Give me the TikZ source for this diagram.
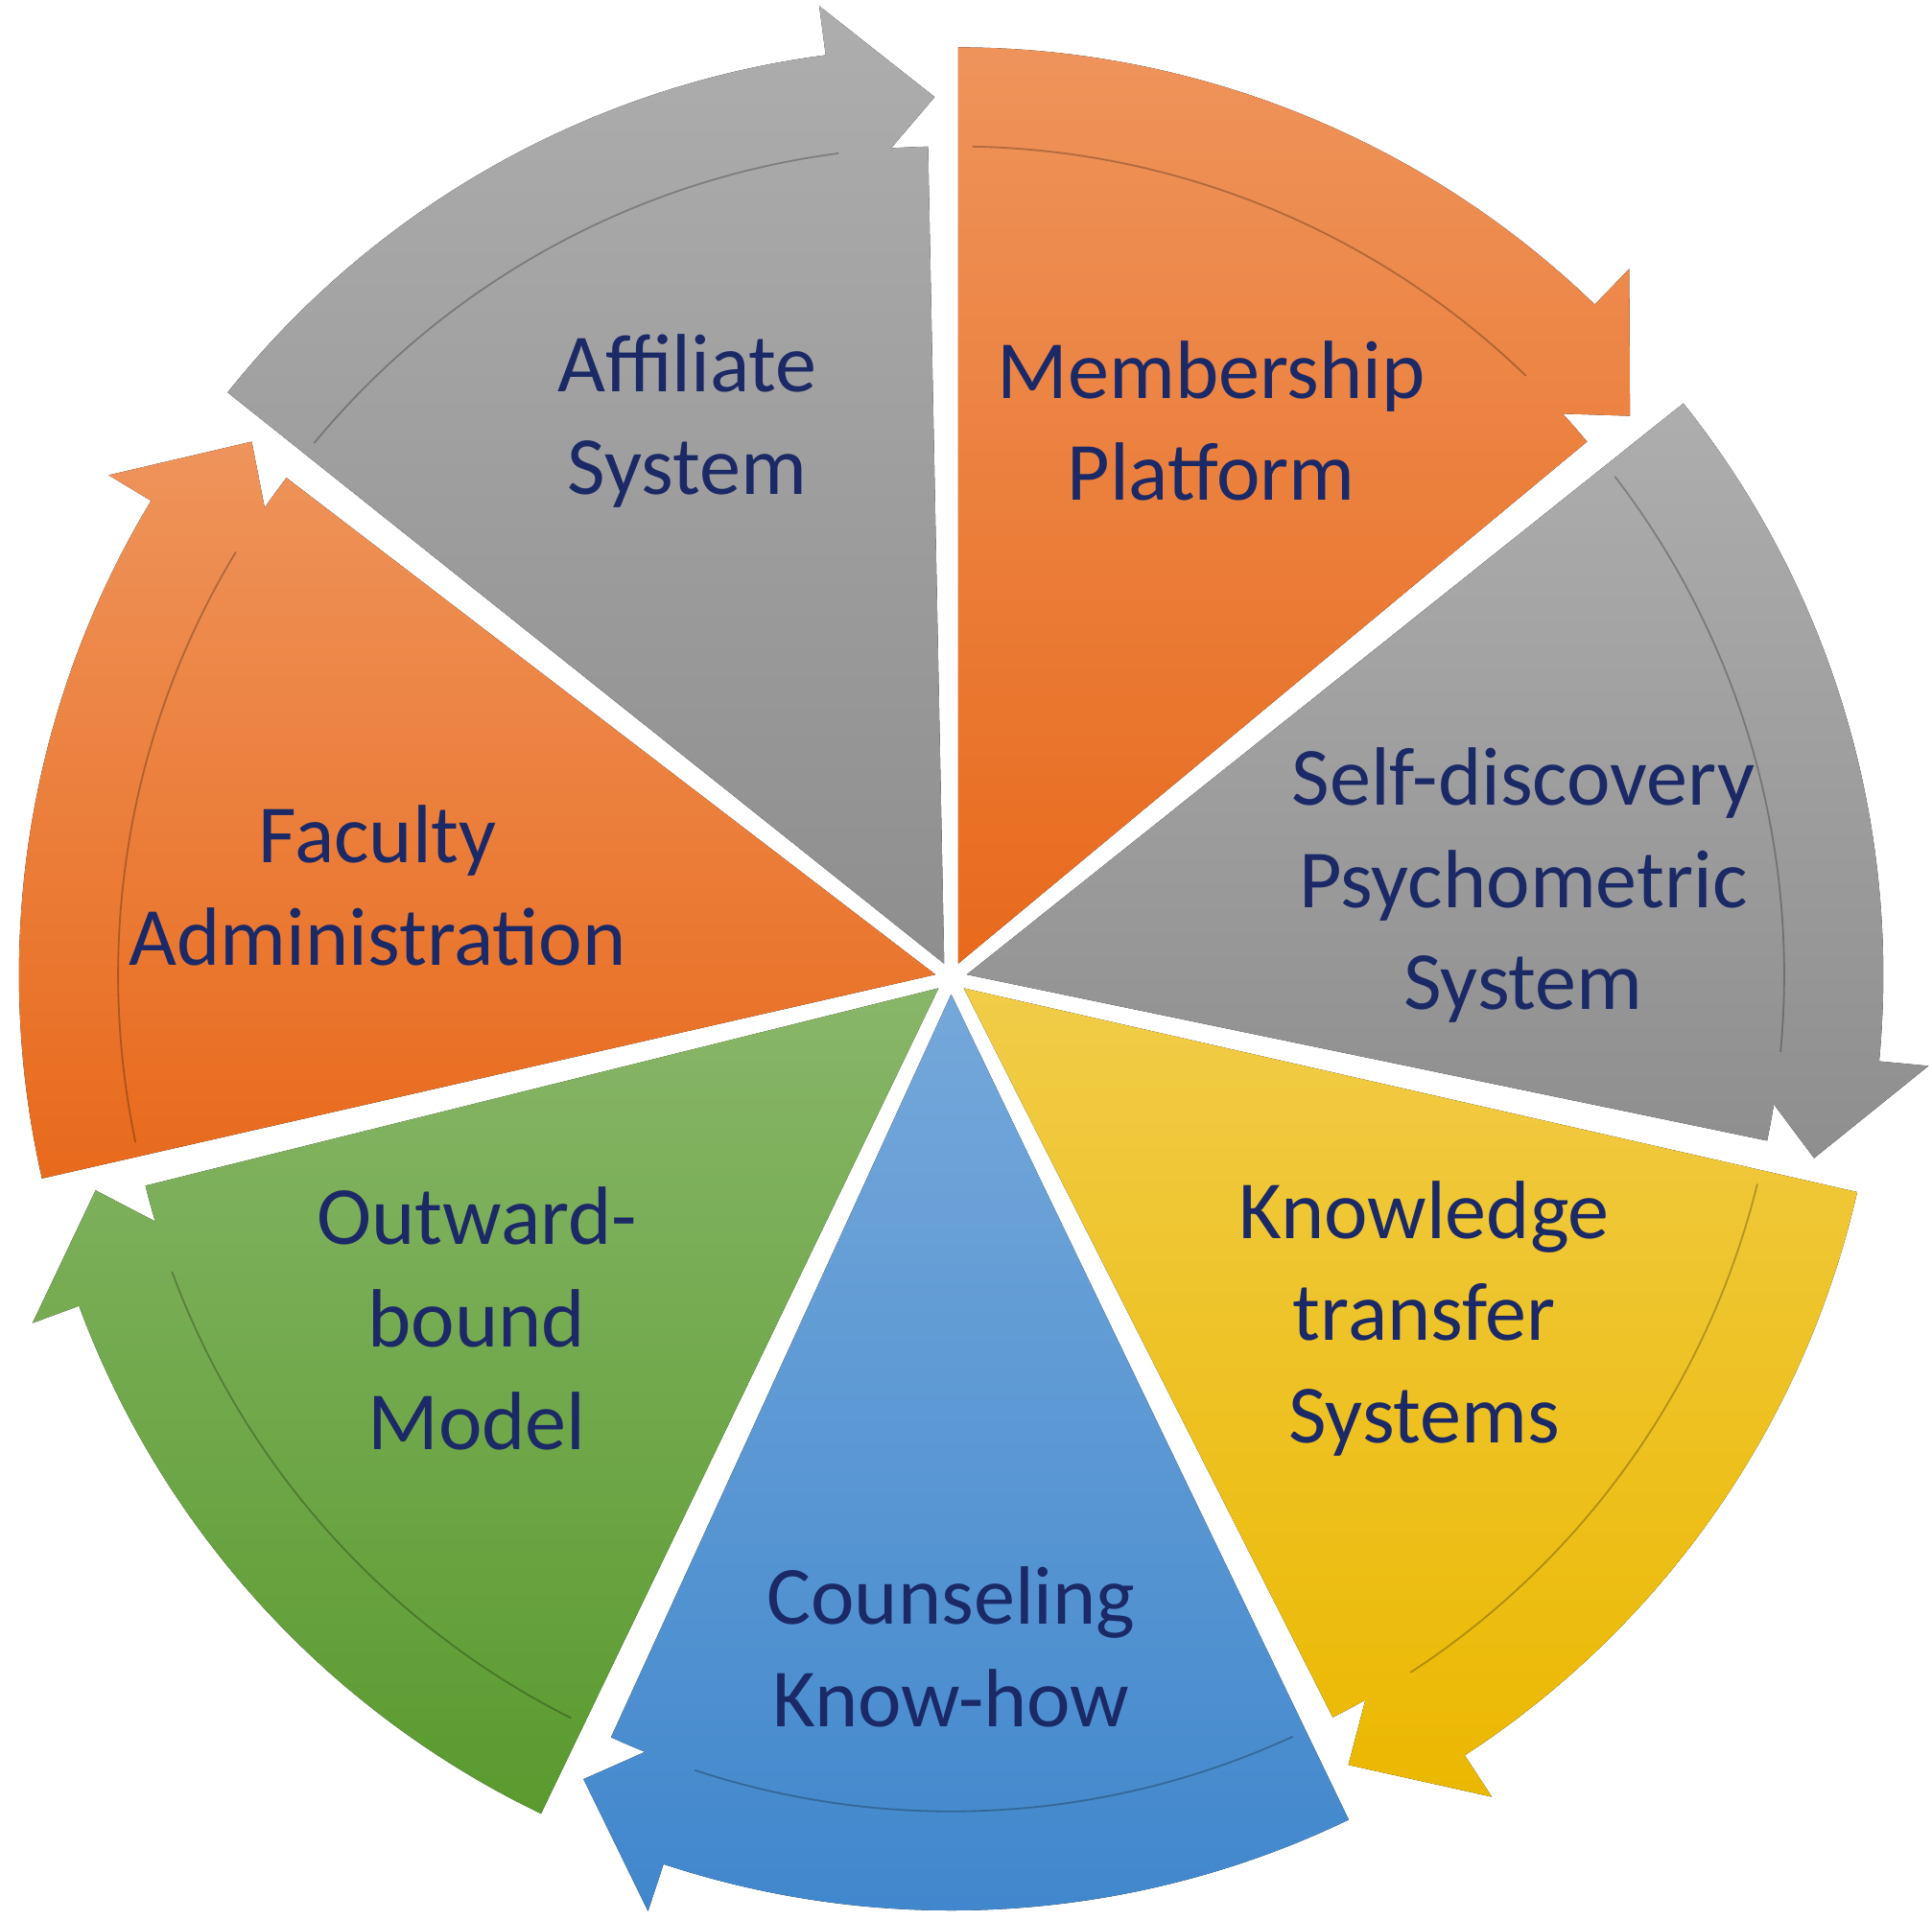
\documentclass[tikz,border=0pt]{standalone}
\usepackage{fontspec}
\setmainfont{Carlito}
\definecolor{orng}{HTML}{E86A1C}
\definecolor{gry}{HTML}{8E8E8E}
\definecolor{yel}{HTML}{EBB800}
\definecolor{blu}{HTML}{3F86CC}
\definecolor{grn}{HTML}{5A9A2E}
\definecolor{navy}{HTML}{1B2A66}
\begin{document}
\begin{tikzpicture}[
  lbl/.style={align=center, text=navy, font=\fontsize{19}{23.5}\selectfont}
]
\useasboundingbox (0,0) rectangle (15.6,15.5);
\def\R{7.4}

% the seven arrow wedges, clockwise from the top
\begin{scope}[shift={(7.68,7.6)}]
\foreach \s/\col in {90/orng,38.57/gry,-12.86/yel,-64.29/blu,-115.71/grn,-167.14/orng,-218.57/gry}{
  \begin{scope}[shift={(\s-25.71:0.13)}]
    \fill[top color=\col!72!white, bottom color=\col]
      (0,0) -- (\s:\R) arc[start angle=\s, end angle=\s-44, radius=\R]
      -- (\s-44:\R+0.4) -- (\s-50.8:\R-0.4) -- (\s-44:\R-1.2)
      -- (\s-44:\R-0.8) arc[start angle=\s-44, end angle=\s-50.3, radius=\R-0.8]
      -- cycle;
    \draw[black, opacity=0.25]
      (\s-1:\R-0.8) arc[start angle=\s-1, end angle=\s-44, radius=\R-0.8];
  \end{scope}
}
\end{scope}

% labels
\node[lbl] (affiliate) at (5.55,12.1) {Affiliate\\System};
\node[lbl] (membership) at (9.78,12.1) {Membership\\Platform};
\node[lbl] (selfdisc) at (12.3,8.35) {Self-discovery\\Psychometric\\System};
\node[lbl] (knowledge) at (11.5,4.85) {Knowledge\\transfer\\Systems};
\node[lbl] (counseling) at (7.68,2.2) {Counseling\\Know-how};
\node[lbl] (outward) at (3.85,4.85) {Outward-\\bound\\Model};
\node[lbl] (faculty) at (3.05,8.35) {Faculty\\Administration};
\end{tikzpicture}
\end{document}
